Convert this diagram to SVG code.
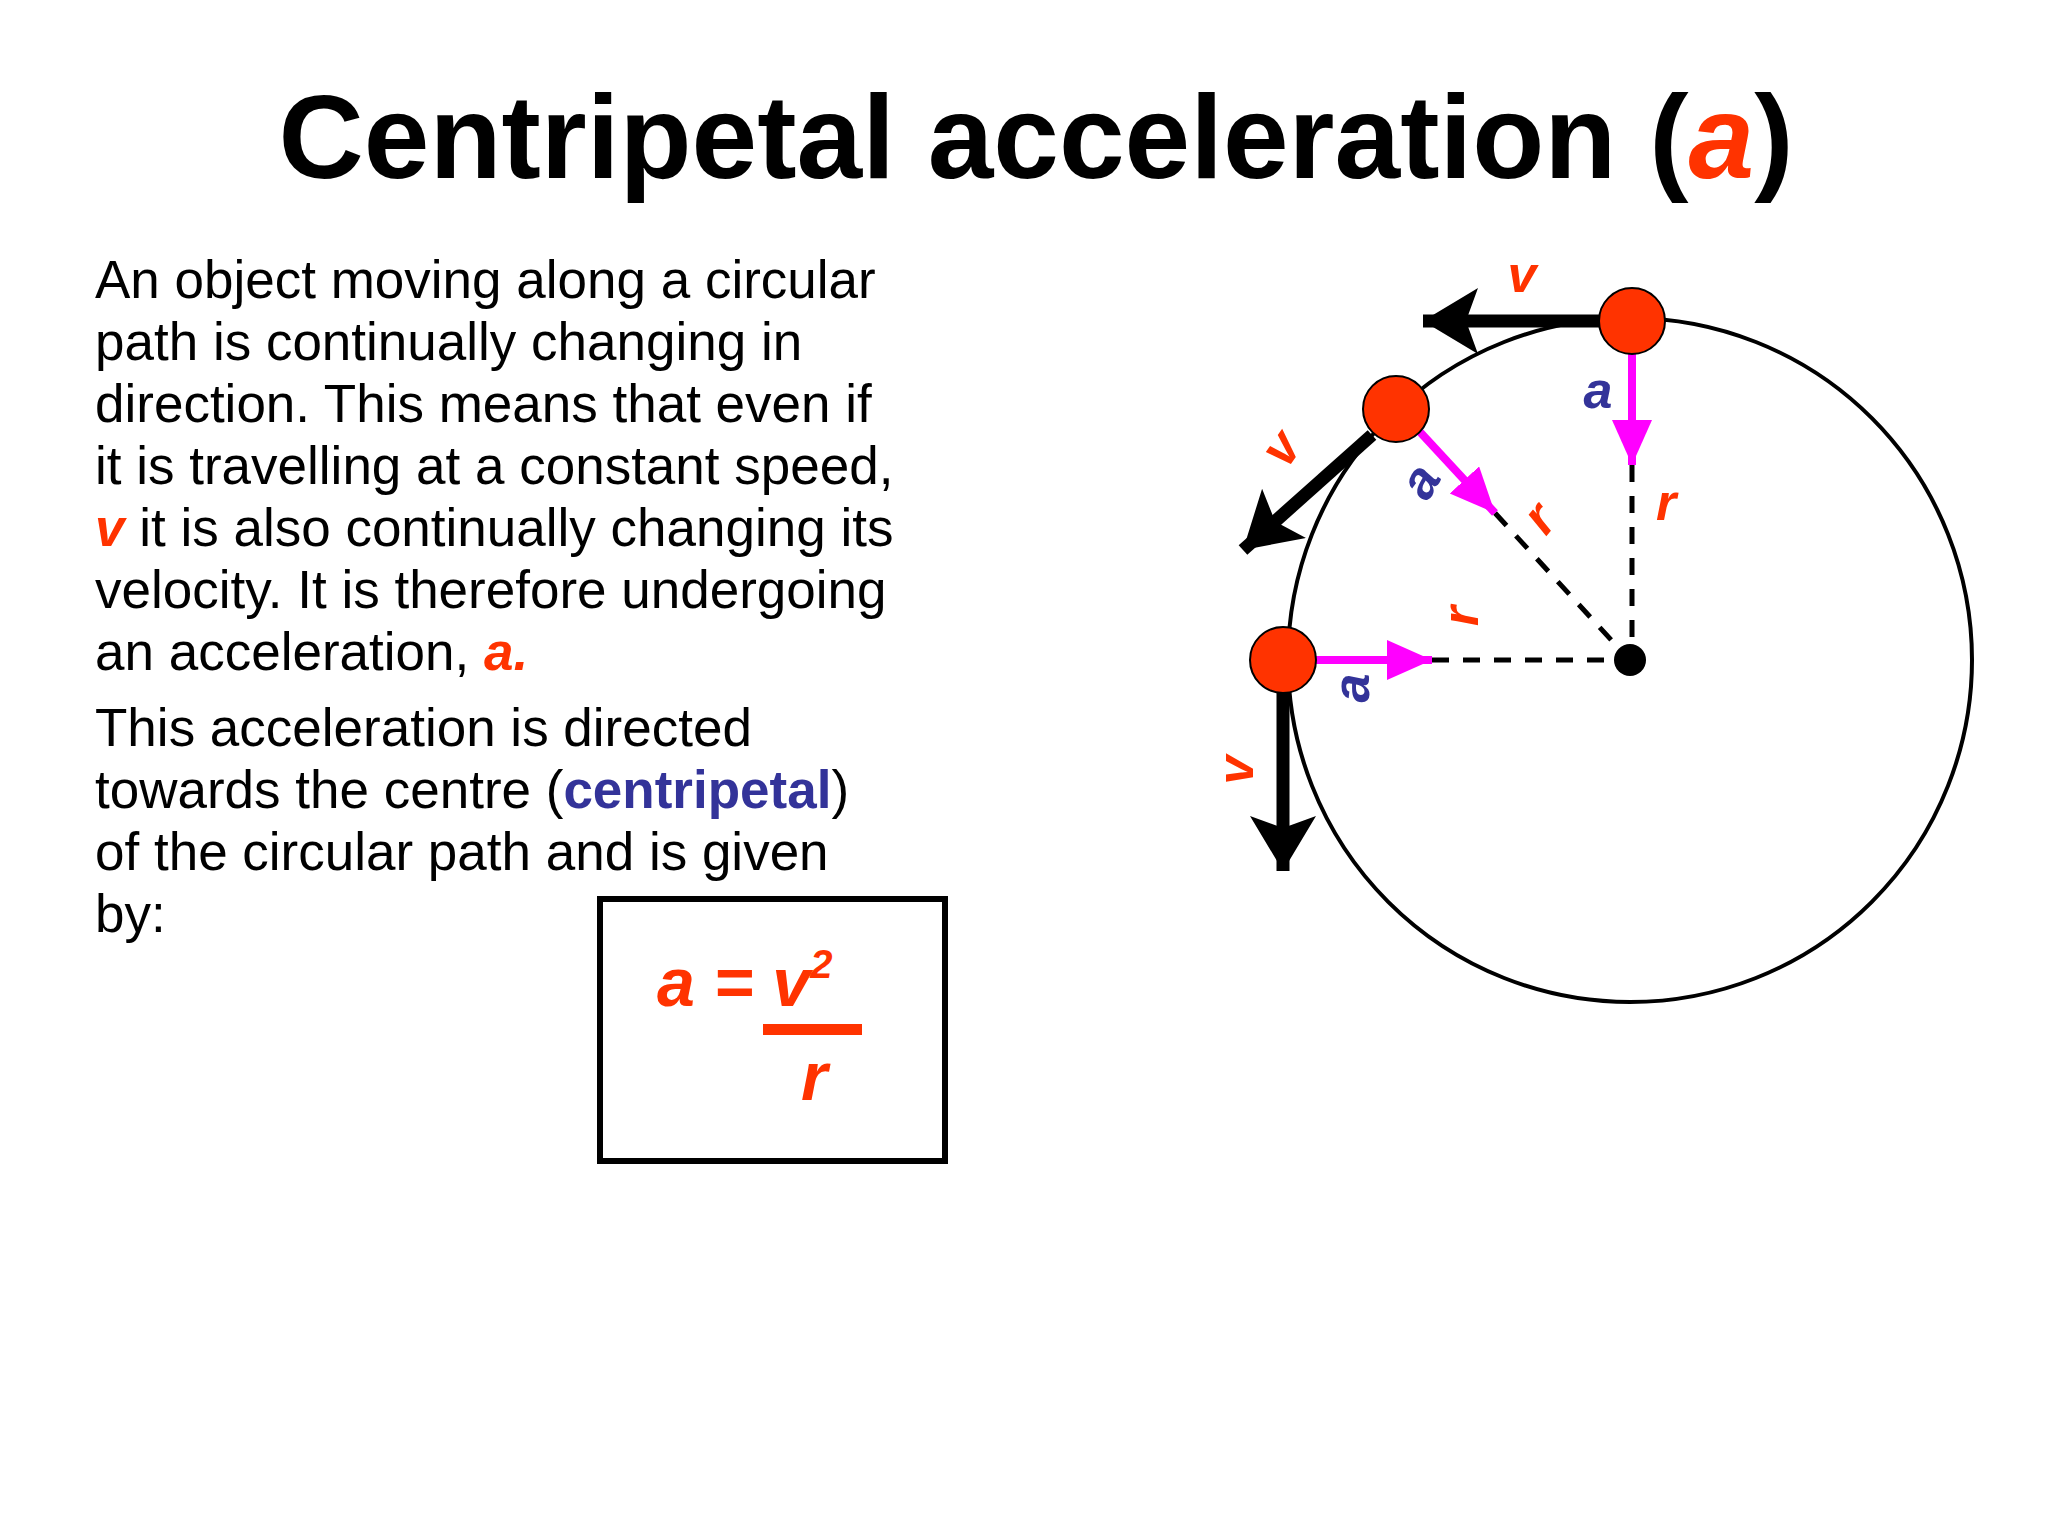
<svg xmlns="http://www.w3.org/2000/svg" width="2048" height="1536" viewBox="0 0 2048 1536">
<style>
.t{font-family:"Liberation Sans",Arial,sans-serif;font-size:53px;fill:#000}
.o{fill:#FF3300;font-weight:bold;font-style:italic}
.b{fill:#333399;font-weight:bold}
.lab{font-family:"Liberation Sans",Arial,sans-serif;font-size:52px;font-weight:bold;font-style:italic;text-anchor:middle}
.ball{fill:#FF3300;stroke:#000;stroke-width:2}
.dash{stroke:#000;stroke-width:5;stroke-dasharray:17 14;fill:none}
.vel{stroke:#000;stroke-width:13;fill:none;marker-end:url(#vh)}
.acc{stroke:#FF00FF;stroke-width:8;fill:none;marker-end:url(#ah)}
</style>
<defs>
<marker id="vh" markerUnits="userSpaceOnUse" markerWidth="60" markerHeight="70" refX="55" refY="33" orient="auto"><path d="M0,0 L55,33 L0,66 L12,33 Z" fill="#000"/></marker>
<marker id="ah" markerUnits="userSpaceOnUse" markerWidth="50" markerHeight="50" refX="45" refY="20" orient="auto"><path d="M0,0 L45,20 L0,40 Z" fill="#FF00FF"/></marker>
</defs>
<rect width="2048" height="1536" fill="#fff"/>
<text x="1036" y="178" text-anchor="middle" font-family="Liberation Sans,Arial,sans-serif" font-size="118" font-weight="bold">Centripetal acceleration (<tspan fill="#FF3300" font-style="italic">a</tspan>)</text>
<g id="body">
<text class="t" x="95" y="298">An object moving along a circular</text>
<text class="t" x="95" y="360">path is continually changing in</text>
<text class="t" x="95" y="422">direction. This means that even if</text>
<text class="t" x="95" y="484">it is travelling at a constant speed,</text>
<text class="t" x="95" y="546"><tspan class="o">v</tspan> it is also continually changing its</text>
<text class="t" x="95" y="608">velocity. It is therefore undergoing</text>
<text class="t" x="95" y="670">an acceleration, <tspan class="o">a.</tspan></text>
<text class="t" x="95" y="746">This acceleration is directed</text>
<text class="t" x="95" y="808">towards the centre (<tspan class="b">centripetal</tspan>)</text>
<text class="t" x="95" y="870">of the circular path and is given</text>
<text class="t" x="95" y="932">by:</text>
</g>
<g id="formula">
<rect x="600" y="899" width="345" height="262" fill="none" stroke="#000" stroke-width="6"/>
<text class="lab" x="657" y="1006" style="text-anchor:start;font-size:68px" fill="#FF3300">a = v<tspan font-size="40" dy="-28">2</tspan></text>
<rect x="763" y="1024" width="99" height="11" fill="#FF3300"/>
<text class="lab" x="801" y="1100" style="text-anchor:start;font-size:68px" fill="#FF3300">r</text>
</g>
<g id="circle">
<circle cx="1630" cy="660" r="342" fill="none" stroke="#000" stroke-width="4"/>
<circle cx="1630" cy="660" r="16" fill="#000"/>
</g>
<g id="connectors">
<line class="dash" x1="1632" y1="465" x2="1632" y2="655"/>
<line class="dash" x1="1495" y1="513" x2="1625" y2="655"/>
<line class="dash" x1="1432" y1="660" x2="1625" y2="660"/>
<line class="vel" x1="1600" y1="321" x2="1423" y2="321"/>
<line class="vel" x1="1372" y1="435" x2="1243" y2="550"/>
<line class="vel" x1="1283" y1="680" x2="1283" y2="871"/>
<line class="acc" x1="1632" y1="354" x2="1632" y2="465"/>
<line class="acc" x1="1420" y1="432" x2="1495" y2="513"/>
<line class="acc" x1="1316" y1="660" x2="1432" y2="660"/>
</g>
<g id="balls">
<circle class="ball" cx="1632" cy="321" r="33"/>
<circle class="ball" cx="1396" cy="409" r="33"/>
<circle class="ball" cx="1283" cy="660" r="33"/>
</g>
<g id="labels">
<text class="lab" x="1522" y="292" fill="#FF3300">v</text>
<text class="lab" x="1598" y="408" fill="#333399">a</text>
<text class="lab" x="1666" y="520" fill="#FF3300">r</text>
<text class="lab" fill="#FF3300" transform="translate(1282,449) rotate(-55)" y="16">v</text>
<text class="lab" fill="#333399" transform="translate(1421,482) rotate(-60)" y="16">a</text>
<text class="lab" fill="#FF3300" transform="translate(1540,519) rotate(-50)" y="16">r</text>
<text class="lab" fill="#FF3300" transform="translate(1462,616) rotate(-90)" y="16">r</text>
<text class="lab" fill="#333399" transform="translate(1353,688) rotate(-90)" y="16">a</text>
<text class="lab" fill="#FF3300" transform="translate(1237,770) rotate(-90)" y="16">v</text>
</g>
</svg>
